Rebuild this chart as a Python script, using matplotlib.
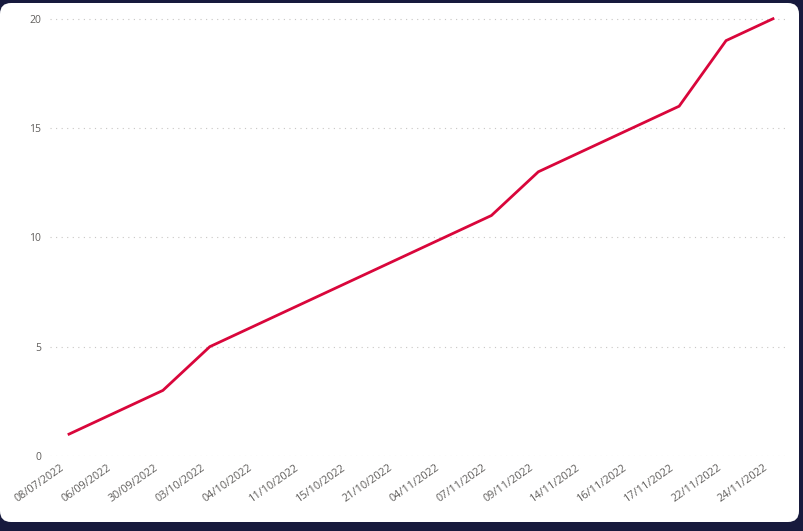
import matplotlib
matplotlib.use("Agg")
import matplotlib.pyplot as plt
import matplotlib.transforms as mtransforms
from matplotlib.patches import FancyBboxPatch

# ── DATA ──────────────────────────────────────────────────────────
dates = ["08/07/2022", "06/09/2022", "30/09/2022", "03/10/2022",
         "04/10/2022", "11/10/2022", "15/10/2022", "21/10/2022",
         "04/11/2022", "07/11/2022", "09/11/2022", "14/11/2022",
         "16/11/2022", "17/11/2022", "22/11/2022", "24/11/2022"]
counts = [1, 2, 3, 5, 6, 7, 8, 9, 10, 11, 13, 14, 15, 16, 19, 20]
y_ticks = [0, 5, 10, 15, 20]
# ─────────────────────────────────────────────────────────────────

W, H = 804, 531
LABEL_COLOR = "#605e5c"
FONT = "Open Sans"

fig = plt.figure(figsize=(W / 100, H / 100), dpi=100)
fig.patch.set_facecolor("#171a3d")

# white rounded card behind the chart (pixel coords, origin bottom-left)
card = FancyBboxPatch((0, 9), 799, 519,
                      boxstyle="round,pad=0,rounding_size=11",
                      transform=mtransforms.IdentityTransform(),
                      facecolor="white", edgecolor="none", zorder=-5)
fig.patches.append(card)

ax = fig.add_axes([50 / W, 1 - 456 / H, (786 - 50) / W, (456 - 10) / H])
ax.set_zorder(1)
ax.set_facecolor("none")

x = list(range(len(dates)))
ax.plot(x, counts, color="#d9063b", linewidth=2.0, solid_joinstyle="miter")

ax.set_xlim(-0.405, len(dates) - 1 + 0.277)
ax.set_ylim(0, 20.4)

ax.set_yticks(y_ticks)
ax.set_yticklabels([str(t) for t in y_ticks])
ax.set_xticks(x)
ax.set_xticklabels([])

ax.tick_params(axis="both", length=0, labelsize=7.5, labelcolor=LABEL_COLOR)
ax.tick_params(axis="y", pad=6.5)
for lab in ax.get_yticklabels():
    lab.set_fontfamily(FONT)

# rotated date labels, shifted a bit left of each point like the original
shift = mtransforms.ScaledTranslation(-9 / 100, -6 / 100, fig.dpi_scale_trans)
for xi, d in zip(x, dates):
    ax.text(xi, 0, d, transform=ax.get_xaxis_transform() + shift,
            rotation=35, rotation_mode="anchor", ha="right", va="top",
            fontsize=7.8, color=LABEL_COLOR, fontfamily=FONT, clip_on=False)

ax.grid(axis="y", color="#c8c6c4", linestyle=(0, (1, 4)), linewidth=0.8)
ax.set_axisbelow(True)
for s in ax.spines.values():
    s.set_visible(False)

fig.savefig("out.png", dpi=100, facecolor=fig.get_facecolor())
